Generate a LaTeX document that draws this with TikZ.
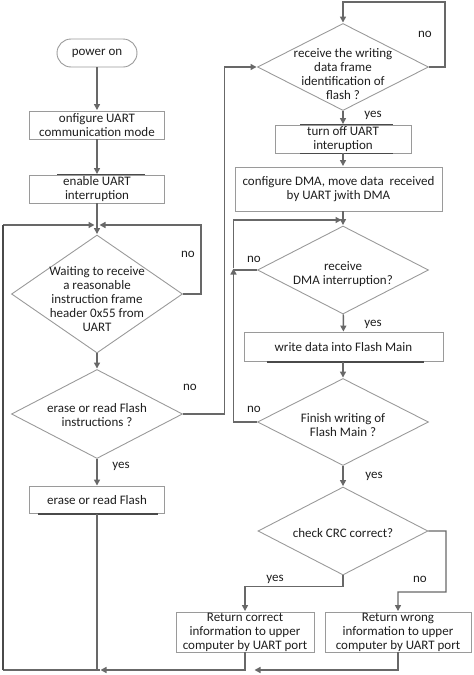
\documentclass[tikz,border=0pt]{standalone}
\usepackage{fontspec}
\setmainfont{Carlito}
\usetikzlibrary{shapes.geometric,arrows.meta}
\definecolor{ln}{HTML}{686868}
\definecolor{bx}{HTML}{9A9A9A}
\definecolor{tx}{HTML}{1E1E1E}
\definecolor{dk}{HTML}{4A4A4A}
\begin{document}
\begin{tikzpicture}[x=1pt,y=-1pt,
  font=\fontsize{13}{14}\selectfont, text=tx,
  box/.style={draw=bx, line width=0.9pt, rectangle, inner sep=0pt, align=center},
  dia/.style={draw=bx, line width=0.9pt, diamond, inner sep=0pt, aspect=1},
  lbl/.style={inner sep=0pt, align=center},
  conn/.style={draw=ln, line width=1.4pt},
  edge/.style={draw=dk, line width=1.3pt},
  arr/.style={conn, -{Triangle[length=6pt,width=6pt]}, shorten >=0.5pt}]
\useasboundingbox (0,0) rectangle (474,675);
% left column
\node[box, rounded corners=14pt, minimum width=80pt, minimum height=28pt] (pwr) at (97,53) {power on};
\node[box, minimum width=135pt, minimum height=28pt] (cfg) at (97,125) {onfigure UART\\communication mode};
\node[box, minimum width=135pt, minimum height=28pt] (en) at (97,189) {enable UART\\interruption};
\node[dia, minimum width=171pt, minimum height=118pt] (d1) at (97,294) {};
\node[lbl] (d1t) at (97,299) {Waiting to receive\\a reasonable\\instruction frame\\header 0x55 from\\UART};
\node[dia, minimum width=171pt, minimum height=89pt] (d2) at (97,414) {};
\node[lbl] (d2t) at (97,415) {erase or read Flash\\instructions ?};
\node[box, minimum width=135pt, minimum height=27pt] (er) at (97,500) {erase or read Flash};
% right column
\node[dia, minimum width=171pt, minimum height=87pt] (d3) at (343,67) {};
\node[lbl] (d3t) at (343,74) {receive the writing\\data frame\\identification of\\flash ?};
\node[box, minimum width=136pt, minimum height=28pt] (off) at (343,139) {turn off UART\\interuption};
\node[box, minimum width=207pt, minimum height=44pt] (dma) at (338.5,189) {configure DMA, move data\ \ received\\by UART jwith DMA};
\node[dia, minimum width=171pt, minimum height=88pt] (d4) at (343,270) {};
\node[lbl] (d4t) at (343,274) {receive\\DMA interruption?};
\node[box, minimum width=199pt, minimum height=29pt] (wr) at (343.5,347) {write data into Flash Main};
\node[dia, minimum width=171pt, minimum height=87pt] (d5) at (343,422) {};
\node[lbl] (d5t) at (343,425) {Finish writing of\\Flash Main ?};
\node[dia, minimum width=170pt, minimum height=88pt] (d6) at (343,531) {};
\node[lbl] (d6t) at (343,533) {check CRC correct?};
\node[box, minimum width=138pt, minimum height=40pt] (rc) at (245,632) {Return correct\\information to upper\\computer by UART port};
\node[box, minimum width=146pt, minimum height=40pt] (rw) at (398,632) {Return wrong\\information to upper\\computer by UART port};
% darker edge segments on some boxes
\draw[edge] ([xshift=-40pt]en.north) -- ([xshift=48pt]en.north);
\draw[edge] ([xshift=-59pt]er.south) -- ([xshift=61pt]er.south);
\draw[edge] ([xshift=-43pt]off.north) -- ([xshift=50pt]off.north);
\draw[edge] ([xshift=-43pt]off.south) -- ([xshift=50pt]off.south);
\draw[edge] ([xshift=-77pt]wr.south) -- ([xshift=80pt]wr.south);
% coordinates
\coordinate (jt) at (97,225);
\coordinate (tl) at (3,225);
\coordinate (bl) at (3,670);
\coordinate (bj) at (100,670);
\coordinate (bj2) at (254,670);
\coordinate (eb) at (97,670);
\coordinate (top3) at (343,2);
\coordinate (lj) at (233.5,220);
\coordinate (lj4) at (233.5,268);
\coordinate (dj) at (342,220);
% connectors left
\draw[arr] (pwr) -- (cfg);
\draw[arr] (cfg) -- (en);
\draw[arr] (en) -- (d1);
\draw[arr] (tl) -- ([xshift=-2pt]jt);
\draw[arr] (d1.east) -- ++(18,0) |- ([xshift=2pt]jt);
\draw[arr] (d1) -- (d2);
\draw[arr] (d2.east) -- ++(41.5,0) |- (d3.west);
\draw[arr] (d2) -- (er);
\draw[conn] (er) -- (eb);
\draw[arr] (rc.south) |- (bj);
\draw[conn] (bj) -- (bl);
\draw[conn, line width=2.2pt, draw=dk] (bl) -- (tl);
% connectors right
\draw[arr] (rw.south) |- (bj2);
\draw[arr] (d3.east) -- ++(16,0) |- (top3) -- (d3.north);
\draw[arr] (d3) -- (off);
\draw[arr] (off.south) -- (off.south |- dma.north);
\draw[arr] (dma.south -| d4.north) -- (d4.north);
\draw[arr] (d5.west) -- (d5.west -| lj) -- (lj4);
\draw[arr] (lj4) -- (lj) -- (dj);
\draw[conn] (d4.west) -- (d4.west -| lj);
\draw[arr] (d4) -- (wr);
\draw[arr] (wr.south -| d5.north) -- (d5.north);
\draw[arr] (d5) -- (d6);
\draw[arr] (d6.south) -- ++(0,11) -| (rc.north);
\draw[arr] (d6.east) -- ++(17.5,0) |- ++(-48,61) -- (rw.north);
% labels
\node[lbl] (l1) at (188,254) {no};
\node[lbl] (l2) at (190,387) {no};
\node[lbl] (l3) at (121,466) {yes};
\node[lbl] (l4) at (425,34) {no};
\node[lbl] (l5) at (373,115) {yes};
\node[lbl] (l6) at (254,259) {no};
\node[lbl] (l7) at (373,324) {yes};
\node[lbl] (l8) at (254,409) {no};
\node[lbl] (l9) at (374,476) {yes};
\node[lbl] (l10) at (275,579) {yes};
\node[lbl] (l11) at (420,579) {no};
\end{tikzpicture}
\end{document}
